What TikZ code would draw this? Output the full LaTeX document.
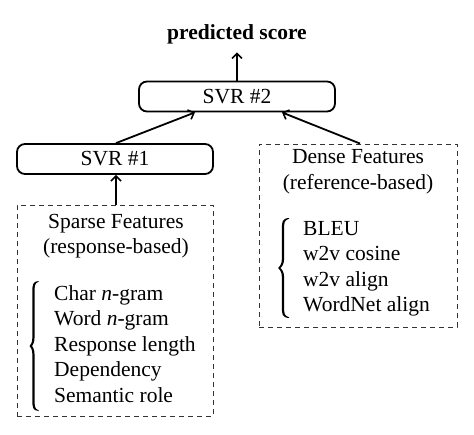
\documentclass[tikz,border=0pt]{standalone}
\usepackage{fontspec}
\setmainfont{Liberation Serif}
\usetikzlibrary{arrows.meta}
\newcommand\drawbrace[5]{% tip x, stem x, end x, top y, bottom y
  \fill ({#3},{#4}) .. controls ({#2-1.1},{#4+0.5}) and ({#2-1.1},{#4+4}) .. ({#2-1.1},{#4+11})
    -- ({#2-1.1},{(#4+#5)/2-9}) .. controls ({#2-1.1},{(#4+#5)/2-3}) and ({#1+1},{(#4+#5)/2-1}) .. ({#1},{(#4+#5)/2})
    .. controls ({#1+1},{(#4+#5)/2+1}) and ({#2-1.1},{(#4+#5)/2+3}) .. ({#2-1.1},{(#4+#5)/2+9})
    -- ({#2-1.1},{#5-11}) .. controls ({#2-1.1},{#5-4}) and ({#2-1.1},{#5-0.5}) .. ({#3},{#5})
    -- ({#3},{#5-0.8}) .. controls ({#2+1.1},{#5-2}) and ({#2+1.1},{#5-5}) .. ({#2+1.1},{#5-11})
    -- ({#2+1.1},{(#4+#5)/2+9}) .. controls ({#2+1.1},{(#4+#5)/2+3}) and ({#1+3},{(#4+#5)/2+0.6}) .. ({#1+2.4},{(#4+#5)/2})
    .. controls ({#1+3},{(#4+#5)/2-0.6}) and ({#2+1.1},{(#4+#5)/2-3}) .. ({#2+1.1},{(#4+#5)/2-9})
    -- ({#2+1.1},{#4+11}) .. controls ({#2+1.1},{#4+5}) and ({#2+1.1},{#4+2}) .. ({#3},{#4+0.8}) -- cycle;}
\begin{document}
\begin{tikzpicture}[x=1pt,y=-1pt,
  every node/.style={font=\fontsize{21.5}{25.5}\selectfont},
  svrbox/.style={draw, line width=1.8pt, rounded corners=8pt, minimum width=196pt, minimum height=30pt, inner sep=0pt},
  featbox/.style={draw=black!80, line width=0.9pt, dash pattern=on 5pt off 4pt, inner sep=0pt},
  arr/.style={-{Straight Barb[length=5pt,width=10pt,line width=1.6pt]}, line width=1.8pt}]
\useasboundingbox (0,0) rectangle (474,434);
\node[font=\fontsize{21.5}{25.5}\selectfont\bfseries, anchor=base, inner sep=0pt] (out) at (237,39.5) {predicted score};
\node[svrbox] (svr2) at (237,96.5) {SVR \#2};
\node[svrbox] (svr1) at (115,159) {SVR \#1};
\node[featbox, minimum width=196pt, minimum height=211pt] (sparse) at (115,310.5) {};
\node[featbox, minimum width=198pt, minimum height=183pt] (dense) at (358,235.5) {};
\node[align=center, inner sep=0pt] (shead) at (116,236) {Sparse Features\\(response-based)};
\node[align=center, inner sep=0pt] (dhead) at (358,171.5) {Dense Features\\(reference-based)};
\node[anchor=west, align=left, inner sep=0pt] (slist) at (54,344) {Char \textit{n}-gram\\Word \textit{n}-gram\\Response length\\Dependency\\Semantic role};
\node[anchor=west, align=left, inner sep=0pt] (dlist) at (303,269) {BLEU\\w2v cosine\\w2v align\\WordNet align};
\drawbrace{29.5}{33.5}{38.5}{281}{411}
\drawbrace{278}{283}{289}{218}{318}
\draw[arr] (svr2.north) -- (out.south) [shorten >=8pt];
\draw[arr] ([xshift=1pt]svr1.north) -- ([xshift=-42pt]svr2.south);
\draw[arr] ([xshift=2pt]dense.north) -- ([xshift=45pt]svr2.south);
\draw[arr] ([xshift=1pt]sparse.north) -- ([xshift=1pt]svr1.south);
\end{tikzpicture}
\end{document}
